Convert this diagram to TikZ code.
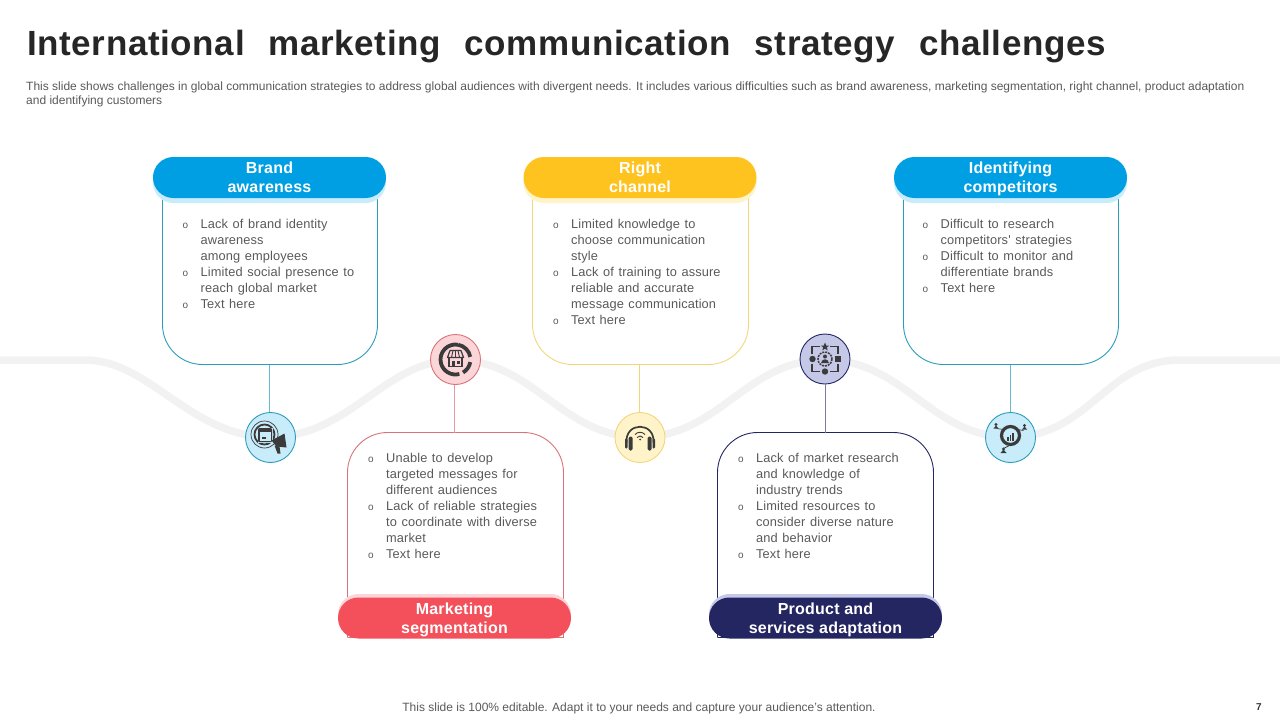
\documentclass[tikz,border=0pt]{standalone}
\usepackage{fontspec}
\setmainfont{Liberation Sans}
\newfontfamily\titlefont[LetterSpace=1.8,WordSpace=2.3]{Liberation Sans}
\newfontfamily\bodyfont[LetterSpace=1.0,WordSpace=1.25]{Liberation Sans}
\newfontfamily\headfont[LetterSpace=1.5]{Liberation Sans}
\definecolor{inkgrey}{HTML}{595959}
\definecolor{icondark}{HTML}{3B3B3B}
\definecolor{waygrey}{HTML}{F2F2F2}
\definecolor{brandblue}{HTML}{009FE3}
\definecolor{brandline}{HTML}{2A9DBB}
\definecolor{brandpale}{HTML}{C9ECFB}
\definecolor{chanyellow}{HTML}{FFC31F}
\definecolor{chanline}{HTML}{F3D67A}
\definecolor{chanpale}{HTML}{FFF3C9}
\definecolor{markred}{HTML}{F4505B}
\definecolor{markline}{HTML}{D9727A}
\definecolor{markpale}{HTML}{FBD5D8}
\definecolor{prodnavy}{HTML}{232661}
\definecolor{prodpale}{HTML}{C5C8E6}
\tikzset{
  headpill/.style={rounded corners=20.4pt, minimum width=233pt, minimum height=41pt, inner sep=0pt,
    align=center, text depth=0pt, text=white, font=\headfont\fontsize{16}{19}\selectfont\bfseries},
  backpill/.style={rounded corners=20.4pt, minimum width=233pt, minimum height=41pt, inner sep=0pt},
  iconring/.style={circle, minimum size=50pt, inner sep=0pt, line width=0.9pt},
  cardtext/.style={anchor=north west, inner sep=0pt, text=inkgrey, font=\bodyfont\fontsize{12.8}{16}\selectfont},
  cardline/.style={line width=0.9pt},
  tie/.style={line width=0.9pt}
}
\newcommand{\bul}{{\fontsize{10}{16}\selectfont o}}
\newcommand{\cardrows}[1]{\begin{tabular}{@{}p{18pt}@{}l@{}}#1\end{tabular}}
\begin{document}
\begin{tikzpicture}[x=1pt,y=-1pt]
\useasboundingbox (0,0) rectangle (1280,720);

% wave
\draw [waygrey, line width=7.5pt] (0,360) -- (85,360)
 .. controls (150,360) and (190,437) .. (270,437)
 .. controls (350,437) and (385,360) .. (455,360)
 .. controls (535,360) and (560,437) .. (640,437)
 .. controls (720,437) and (745,360) .. (825,360)
 .. controls (905,360) and (930,437) .. (1010,437)
 .. controls (1090,437) and (1105,360) .. (1180,360) -- (1280,360);

\node [anchor=west, inner sep=0pt, text=black!85, font=\titlefont\fontsize{35}{40}\selectfont\bfseries] (title) at (27,46.5) {International marketing communication strategy challenges};
\node [anchor=north west, inner sep=0pt, align=left, text=inkgrey, font=\fontsize{12}{14}\selectfont] (intro) at (26,81.5)
 {This slide shows challenges in global communication strategies to address global audiences with divergent needs. It includes various difficulties such as brand awareness, marketing segmentation, right channel, product adaptation\\and identifying customers};

\coordinate (brandend) at (269.5,364.5);
\coordinate (chanend) at (639.5,364.5);
\coordinate (compend) at (1010.5,364.5);
\coordinate (markend) at (454.5,432.5);
\coordinate (prodend) at (825,432.5);

% cards
\draw [cardline, brandline, rounded corners=40pt] (162.5,190) -- (162.5,364.5) -- (377.5,364.5) -- (377.5,190);
\draw [cardline, chanline, rounded corners=40pt] (532.5,190) -- (532.5,364.5) -- (748.5,364.5) -- (748.5,190);
\draw [cardline, brandline, rounded corners=40pt] (903.5,190) -- (903.5,364.5) -- (1118.5,364.5) -- (1118.5,190);
\draw [cardline, markline, rounded corners=40pt] (347.5,637.5) -- (347.5,432.5) -- (563.5,432.5) -- (563.5,637.5);
\draw [cardline, markline] (347.5,637.5) -- (563.5,637.5);
\draw [cardline, prodnavy, rounded corners=40pt] (717.5,637.5) -- (717.5,432.5) -- (933.5,432.5) -- (933.5,637.5);
\draw [cardline, prodnavy] (717.5,637.5) -- (933.5,637.5);

% heads
\node [backpill, fill=brandpale] (brandback) at (269.5,182.5) {};
\node [backpill, fill=chanpale] (chanback) at (640,182.5) {};
\node [backpill, fill=brandpale] (compback) at (1010.5,182.5) {};
\node [backpill, fill=markpale] (markback) at (454.5,614.5) {};
\node [backpill, fill=prodpale] (prodback) at (825.5,614.5) {};
\node [headpill, fill=brandblue] (brandhead) at (269.5,177.5) {Brand\\awareness};
\node [headpill, fill=chanyellow] (chanhead) at (640,177.5) {Right\\channel};
\node [headpill, fill=brandblue] (comphead) at (1010.5,177.5) {Identifying\\competitors};
\node [headpill, fill=markred] (markhead) at (454.5,618) {Marketing\\segmentation};
\node [headpill, fill=prodnavy] (prodhead) at (825.5,618) {Product and\\services adaptation};

% card text
\node [cardtext] (brandtext) at (182.5,217) {\cardrows{
\bul & Lack of brand identity\\ & awareness\\ & among employees\\
\bul & Limited social presence to\\ & reach global market\\
\bul & Text here}};
\node [cardtext] (chantext) at (553,217) {\cardrows{
\bul & Limited knowledge to\\ & choose communication\\ & style\\
\bul & Lack of training to assure\\ & reliable and accurate\\ & message communication\\
\bul & Text here}};
\node [cardtext] (comptext) at (922.5,217) {\cardrows{
\bul & Difficult to research\\ & competitors' strategies\\
\bul & Difficult to monitor and\\ & differentiate brands\\
\bul & Text here}};
\node [cardtext] (marktext) at (368,451) {\cardrows{
\bul & Unable to develop\\ & targeted messages for\\ & different audiences\\
\bul & Lack of reliable strategies\\ & to coordinate with diverse\\ & market\\
\bul & Text here}};
\node [cardtext] (prodtext) at (738,451) {\cardrows{
\bul & Lack of market research\\ & and knowledge of\\ & industry trends\\
\bul & Limited resources to\\ & consider diverse nature\\ & and behavior\\
\bul & Text here}};

% icon discs
\node [iconring, draw=brandline, fill=brandpale] (brandicon) at (270.5,437.5) {};
\node [iconring, draw=markline, fill=markpale] (markicon) at (455.5,359.5) {};
\node [iconring, draw=chanline, fill=chanpale] (chanicon) at (640,437.5) {};
\node [iconring, draw=prodnavy, fill=prodpale] (prodicon) at (825,359) {};
\node [iconring, draw=brandline, fill=brandpale] (compicon) at (1010.5,437.5) {};

\draw [tie, brandline!70] (brandend) -- (brandicon.north -| brandend);
\draw [tie, chanline] (chanend) -- (chanicon.north -| chanend);
\draw [tie, brandline!70] (compend) -- (compicon.north -| compend);
\draw [tie, markline!70] (markicon.south -| markend) -- (markend);
\draw [tie, prodnavy!60] (prodicon.south) -- (prodend);

% megaphone icon
\begin{scope}[shift={(270.5,437.5)}, icondark]
\draw [line width=1.8pt] (-6,-3) circle (10);
\draw [line width=0.7pt] (-6,-3) circle (13.5);
\fill [brandpale] (-13,-10) rectangle (2,5);
\fill [rounded corners=1pt] (-12.5,-9.5) rectangle (1.5,4.5);
\fill [brandpale] (-11,-5.5) rectangle (0,3);
\fill (-9,-1) rectangle (-5,1);
\fill (1,3) -- (14,-4) -- (16,10) -- (6,9) -- cycle;
\fill (4,8) -- (9,9) -- (10,16) -- (7,16) -- cycle;
\end{scope}

% store icon
\begin{scope}[shift={(455.5,359.5)}, icondark]
\draw [line width=3.8pt] (-80:15) arc (-80:-10:15);
\draw [line width=3.8pt] (10:15) arc (10:60:15);
\draw [line width=3.8pt] (75:15) arc (75:280:15);
\draw [line width=1.2pt, line join=round] (-8,-2) -- (-5.5,-9) -- (5.5,-9) -- (8,-2) -- cycle;
\draw [line width=0.9pt] (-2.5,-9) -- (-4,-2) (0,-9) -- (0,-2) (2.5,-9) -- (4,-2);
\draw [line width=1.4pt] (-6.5,-2) -- (-6.5,7) -- (6.5,7) -- (6.5,-2);
\fill (-4,1) rectangle (-1,7);
\fill (1,1) rectangle (4.5,4);
\end{scope}

% headphones icon
\begin{scope}[shift={(640,437.5)}, icondark]
\draw [line width=1.7pt] (-13.5,5) .. controls (-15,-16) and (15,-16) .. (13.5,5);
\fill [rounded corners=1.2pt] (-15,1) rectangle (-12.5,11);
\fill [rounded corners=1.5pt] (-11.5,-1) rectangle (-7.5,13);
\fill [rounded corners=1.2pt] (12.5,1) rectangle (15,11);
\fill [rounded corners=1.5pt] (7.5,-1) rectangle (11.5,13);
\draw [line width=0.9pt] (-5,-3) .. controls (-2,-6) and (2,-6) .. (5,-3);
\draw [line width=0.9pt] (-3,0) .. controls (-1,-2) and (1,-2) .. (3,0);
\fill (0,2) circle (1);
\end{scope}

% process icon
\begin{scope}[shift={(825,359)}, icondark]
\draw [line width=1.2pt] (-5,-12.5) -- (-13,-12.5) -- (-13,-5);
\draw [line width=1.2pt] (5,-12.5) -- (13,-12.5) -- (13,-5);
\draw [line width=1.2pt] (-13,5) -- (-13,12.5) -- (-5,12.5);
\draw [line width=1.2pt] (5,12.5) -- (13,12.5) -- (13,5);
\fill (0,-16.5) -- (1.2,-13.5) -- (4.2,-13.5) -- (1.8,-11.5) -- (2.7,-8.5) -- (0,-10.3) -- (-2.7,-8.5) -- (-1.8,-11.5) -- (-4.2,-13.5) -- (-1.2,-13.5) -- cycle;
\fill (-12.5,0) circle (3.2);
\fill (10,-3) rectangle (16,3);
\fill (0,12.5) circle (3.2);
\draw [line width=1.5pt, dash pattern=on 2pt off 1pt] (0,0) circle (7);
\fill (0,-2.5) circle (2);
\fill (-4,4) .. controls (-3,-1) and (3,-1) .. (4,4) -- cycle;
\end{scope}

% competitor icon
\begin{scope}[shift={(1010.5,437.5)}, icondark]
\draw [line width=3.2pt] (0,-2) circle (9);
\fill (-3.5,-0.5) rectangle (-2,3);
\fill (-1,-3) rectangle (0.5,3);
\fill (1.5,-5) rectangle (3,3);
\draw [line width=0.7pt] (-7,-8) -- (-14,-9) (7,-8) -- (13,-7) (-1,8) -- (-7,11);
\fill (-14.5,-13) circle (1.6);
\fill (-17,-9) -- (-12,-9) -- (-14.5,-12) -- cycle;
\fill (14,-12) circle (1.6);
\fill (11.5,-8) -- (16.5,-8) -- (14,-11) -- cycle;
\fill (-7,11.5) circle (1.6);
\fill (-10,15.5) -- (-4,15.5) -- (-7,12) -- cycle;
\end{scope}

\node [inner sep=0pt, text=inkgrey, font=\fontsize{12}{14}\selectfont] (footer) at (639,708) {This slide is 100\% editable. Adapt it to your needs and capture your audience's attention.};
\node [inner sep=0pt, text=black!80, font=\fontsize{10}{12}\selectfont\bfseries] (pageno) at (1259,707) {7};
\end{tikzpicture}
\end{document}
